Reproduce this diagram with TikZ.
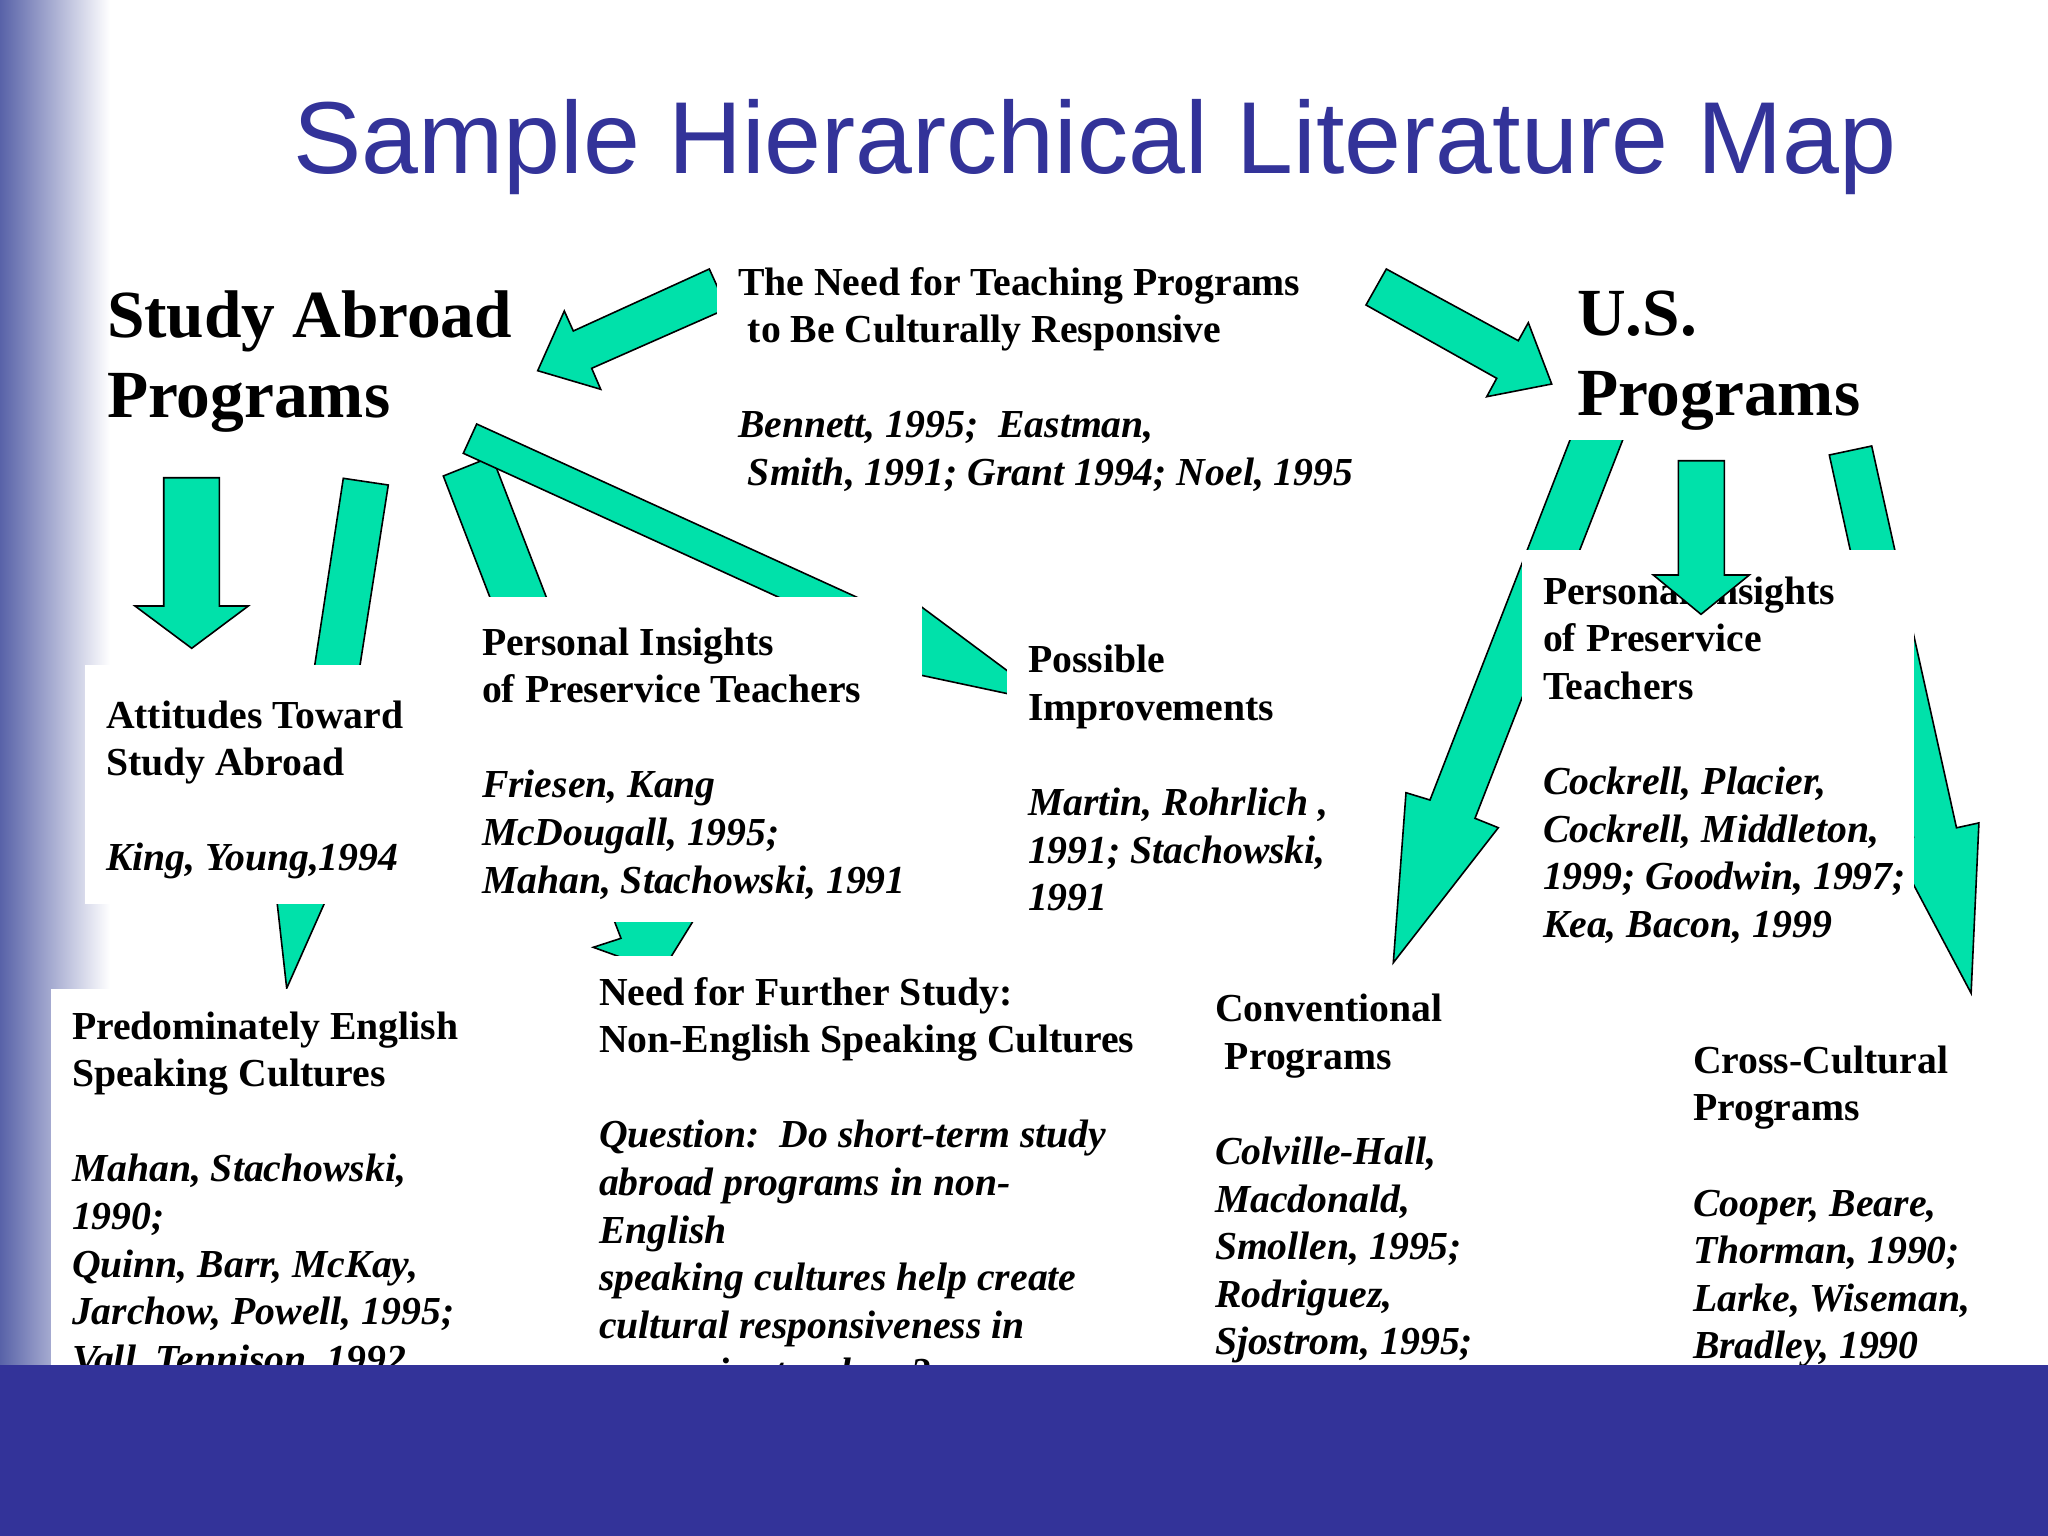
\documentclass[tikz,border=0pt]{standalone}
\usepackage{fontspec}
\setmainfont{Liberation Serif}
\newfontfamily\titlefont{Liberation Sans}
\definecolor{mint}{RGB}{0,225,170}
\definecolor{titleblue}{RGB}{51,51,153}
\definecolor{bandblue}{RGB}{51,51,153}
\definecolor{sideblue}{RGB}{88,98,168}
\newcommand\Ln[1]{\hbox{#1}}
\newcommand\Bl{\hbox{}}
\newcommand\bodyfont{\fontsize{39.7}{47.6}\selectfont\bfseries}
\newcommand\headfont{\fontsize{67.4}{80}\selectfont\bfseries}
\begin{document}
\begin{tikzpicture}[x=1pt,y=-1pt,
  arr/.style={fill=mint,draw=black,line width=1.6pt,line join=miter,miter limit=20},
  cover/.style={fill=white,draw=none},
  txt/.style={anchor=base west,inner sep=0pt,outer sep=0pt,font=\bodyfont},
  headtxt/.style={anchor=base west,inner sep=0pt,outer sep=0pt,font=\headfont}]
\useasboundingbox (0,0) rectangle (2048,1536);
\fill[white] (0,0) rectangle (2048,1536);
\shade[left color=sideblue,right color=white] (0,0) rectangle (110,1365);

% title
\node[anchor=base west,inner sep=0pt,text=titleblue,font={\titlefont\fontsize{102.3}{120}\selectfont}] (title) at (293,173) {Sample Hierarchical Literature Map};

% arrows (drawn before the text covers)
% from "The Need" to Study Abroad
\draw[arr] (709.3,269) -- (573.3,331) -- (564.3,311) -- (537.7,370.7) -- (600.7,389.3) -- (591.7,368.3) -- (727.3,308.5) -- cycle;
% from "The Need" to U.S.
\draw[arr] (1386.3,269) -- (1518.3,340.7) -- (1528.3,322.7) -- (1551.7,384) -- (1486.7,396.7) -- (1496.7,378.3) -- (1366,305) -- cycle;
% Study Abroad -> Attitudes
\draw[arr] (163.7,477.7) -- (219.3,477.7) -- (219.3,606) -- (248.3,606) -- (191.7,648.3) -- (135,606) -- (163.7,606) -- cycle;
% Study Abroad -> Predominately English
\draw[arr] (343.3,478.3) -- (388.3,485) -- (335.4,822) -- (360.5,822) -- (286.7,988.3) -- (268.1,822) -- (290.8,822) -- cycle;
% Study Abroad -> Need for Further Study
\draw[arr] (443.3,476) -- (492,456.5) -- (669.7,916.8) -- (704.3,902.9) -- (661.6,972) -- (593.3,947.3) -- (621,938.3) -- cycle;
% Study Abroad -> Possible Improvements
\draw[arr] (476.7,424) -- (906.8,620) -- (914.9,602) -- (1050.4,702.8) -- (885.3,667.6) -- (893.4,649.6) -- (463.3,453.3) -- cycle;
% U.S. -> Conventional
\draw[arr] (1573.9,430) -- (1626.6,430) -- (1475,818.3) -- (1498.3,827.7) -- (1393.3,962.7) -- (1406,792.7) -- (1430,800) -- cycle;
% U.S. -> Cross-Cultural
\draw[arr] (1829.3,455) -- (1871.7,446) -- (1956.5,827.8) -- (1978.9,822.9) -- (1971.1,993.2) -- (1891.1,842.3) -- (1913.5,837.4) -- cycle;

% white text boxes that hide parts of the arrows
\fill[cover] (716.7,255) rectangle (1350,500);
\fill[cover] (1560,280) rectangle (1900,440);
\fill[cover] (85,665) rectangle (445,904.3);
\fill[cover] (470,596.7) rectangle (922.3,921.7);
\fill[cover] (1006.7,600) rectangle (1300,940);
\fill[cover] (51,989) rectangle (560,1365);
\fill[cover] (590,955.7) rectangle (1180,1365);
\fill[cover] (1521.7,550) rectangle (1914,965);

% texts
\node[headtxt] (sa) at (107,337) {\vtop{\Ln{Study Abroad}\Ln{Programs}}};
\node[headtxt] (us) at (1577,335) {\vtop{\Ln{U.S.}\Ln{Programs}}};
\node[txt] (need) at (738,295) {\vtop{\Ln{The Need for Teaching Programs}\Ln{\ to Be Culturally Responsive}\Bl\Ln{\itshape Bennett, 1995;\ \ Eastman,}\Ln{\itshape\ Smith, 1991; Grant 1994; Noel, 1995}}};
\node[txt] (att) at (106,728) {\vtop{\Ln{Attitudes Toward}\Ln{Study Abroad}\Bl\Ln{\itshape King, Young,1994}}};
\node[txt] (pil) at (482,655) {\vtop{\Ln{Personal Insights}\Ln{of Preservice Teachers}\Bl\Ln{\itshape Friesen, Kang}\Ln{\itshape McDougall, 1995;}\Ln{\itshape Mahan, Stachowski, 1991}}};
\node[txt] (pos) at (1028,672.7) {\vtop{\Ln{Possible}\Ln{Improvements}\Bl\Ln{\itshape Martin, Rohrlich ,}\Ln{\itshape 1991; Stachowski,}\Ln{\itshape 1991}}};
\node[txt] (pir) at (1543,604) {\vtop{\Ln{Personal Insights}\Ln{of Preservice}\Ln{Teachers}\Bl\Ln{\itshape Cockrell, Placier,}\Ln{\itshape Cockrell, Middleton,}\Ln{\itshape 1999; Goodwin, 1997;}\Ln{\itshape Kea, Bacon, 1999}}};
\node[txt] (pre) at (72,1039) {\vtop{\Ln{Predominately English}\Ln{Speaking Cultures}\Bl\Ln{\itshape Mahan, Stachowski,}\Ln{\itshape 1990;}\Ln{\itshape Quinn, Barr, McKay,}\Ln{\itshape Jarchow, Powell, 1995;}\Ln{\itshape Vall, Tennison, 1992}}};
\node[txt] (nfs) at (599,1005) {\vtop{\Ln{Need for Further Study:}\Ln{Non-English Speaking Cultures}\Bl\Ln{\itshape Question:\ \ Do short-term study}\Ln{\itshape abroad programs in non-}\Ln{\itshape English}\Ln{\itshape speaking cultures help create}\Ln{\itshape cultural responsiveness in}\Ln{\itshape preservice teachers?}}};
\node[txt] (con) at (1215,1021.7) {\vtop{\Ln{Conventional}\Ln{\ Programs}\Bl\Ln{\itshape Colville-Hall,}\Ln{\itshape Macdonald,}\Ln{\itshape Smollen, 1995;}\Ln{\itshape Rodriguez,}\Ln{\itshape Sjostrom, 1995;}}};
\node[txt] (cc) at (1693,1073.3) {\vtop{\Ln{Cross-Cultural}\Ln{Programs}\Bl\Ln{\itshape Cooper, Beare,}\Ln{\itshape Thorman, 1990;}\Ln{\itshape Larke, Wiseman,}\Ln{\itshape Bradley, 1990}}};

% U.S. -> Personal Insights (drawn over its text)
\draw[arr] (1678.3,460.7) -- (1724.3,460.7) -- (1724.3,575) -- (1749.3,575) -- (1701,614.3) -- (1653.3,575) -- (1678.3,575) -- cycle;

% bottom band
\fill[bandblue] (0,1365) rectangle (2048,1536);
\end{tikzpicture}
\end{document}
